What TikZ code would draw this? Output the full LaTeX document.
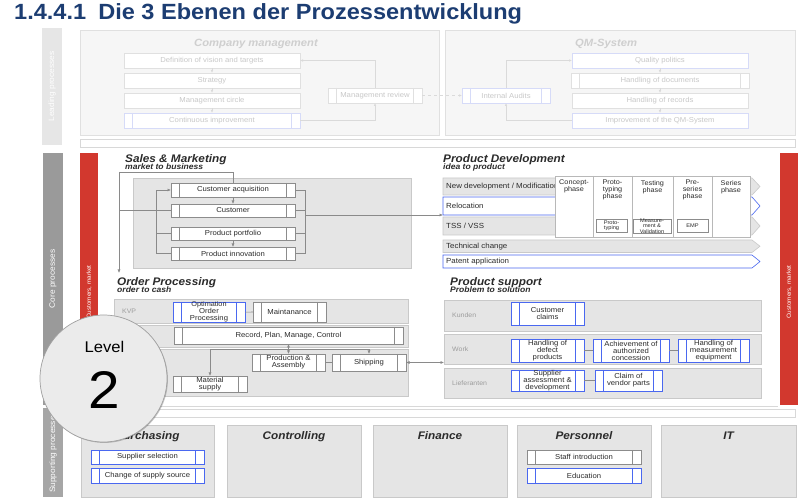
\documentclass[tikz,border=0pt]{standalone}
\usepackage{fontspec}
\setmainfont{Liberation Sans}[FakeStretch=1.07]
\usetikzlibrary{arrows.meta,shadows,calc}

\definecolor{ttl}{HTML}{1C3D72}
\definecolor{redbar}{HTML}{D2382E}
\definecolor{dgray}{HTML}{9A9A9A}
\definecolor{supgray}{HTML}{A6A6A6}
\definecolor{lgfill}{HTML}{E5E5E5}
\definecolor{lgdraw}{HTML}{C9C9C9}
\definecolor{bl}{HTML}{4A68F0}
\definecolor{boxgray}{HTML}{8C8C8C}
\definecolor{txt}{HTML}{2B2B2B}
\definecolor{rowgray}{HTML}{9C9C9C}
\definecolor{lngray}{HTML}{8A8A8A}
\definecolor{fadetxt}{HTML}{C8C8C8}
\definecolor{fadedraw}{HTML}{E0E0E0}
\definecolor{fadefill}{HTML}{F6F6F6}
\definecolor{fadebl}{HTML}{D6DBF8}
\definecolor{fadebar}{HTML}{E6E6E6}
\definecolor{fadeln}{HTML}{DADADA}
\definecolor{fadetitle}{HTML}{CFCFCF}
\definecolor{barline}{HTML}{D8D8D8}
\definecolor{circfill}{HTML}{EBEBEB}
\definecolor{circdraw}{HTML}{A0A0A0}
\definecolor{tablegray}{HTML}{B8B8B8}

\newcommand\fs[2]{\fontsize{#1}{#2}\selectfont}
\newcommand\bx[7]{%
  \pgfmathsetmacro\bxw{#5-#3}%
  \pgfmathsetmacro\bxh{#6-#4}%
  \node[#1,anchor=north west,minimum width=\bxw pt,minimum height=\bxh pt] (#2) at (#3,#4) {#7};}
\newcommand\chev[6]{%
  \draw[line width=0.6pt, fill=#4, draw=#5] (443,#2) -- (752,#2) -- (760,{(#2+#3)/2}) -- (752,#3) -- (443,#3) -- cycle;
  \node[anchor=west, inner sep=0pt, font=\fs{7.4}{7.4}, text=txt] (#1) at (446,{(#2+#3)/2}) {#6};}

\tikzset{
  bxbase/.style={inner sep=0pt, outer sep=0pt, line width=0.6pt},
  shad/.style={drop shadow={shadow xshift=0.9pt,shadow yshift=-0.9pt,fill=black,opacity=0.22}},
  bars/.style={path picture={\draw[draw=#1,line width=0.6pt]
      ([xshift=8.5pt]path picture bounding box.north west) -- ([xshift=8.5pt]path picture bounding box.south west)
      ([xshift=-8.5pt]path picture bounding box.north east) -- ([xshift=-8.5pt]path picture bounding box.south east);}},
  sb/.style={bxbase, fill=white, draw=#1, bars=#1, shad, align=center, font=\fs{7.2}{7}, text=txt},
  sb/.default=boxgray,
  bsb/.style={sb=bl, line width=0.9pt},
  plainb/.style={bxbase, fill=white, draw=boxgray, shad, align=center, font=\fs{5.3}{5.3}, text=txt},
  fplain/.style={bxbase, fill=white, draw=#1, align=center, font=\fs{7.2}{7}, text=fadetxt},
  fplain/.default=fadedraw,
  fsb/.style={fplain=#1, bars=#1},
  fsb/.default=fadedraw,
  panel/.style={bxbase, fill=lgfill, draw=lgdraw},
  spanel/.style={panel, shad},
  ln/.style={draw=lngray, line width=0.6pt},
  tip/.style={-{Latex[length=3.5pt,width=3pt]}},
  dtip/.style={{Latex[length=3.5pt,width=3pt]}-{Latex[length=3.5pt,width=3pt]}},
  fln/.style={draw=fadeln, line width=0.6pt},
  ftip/.style={-{Latex[length=3pt,width=2.6pt]}},
  sect/.style={anchor=base west, inner sep=0pt, font=\fs{11}{12}\bfseries\itshape, text=txt},
  subsect/.style={anchor=base west, inner sep=0pt, font=\fs{8}{9}\bfseries\itshape, text=txt},
  rowlab/.style={anchor=west, inner sep=0pt, font=\fs{6.5}{7}, text=rowgray},
  vbar/.style={bxbase, rotate=90, text=white, align=center},
  phase/.style={anchor=north, inner sep=0pt, align=center, font=\fs{6.8}{7}, text=txt},
}

\begin{document}
\begin{tikzpicture}[x=1pt,y=-1pt]
\useasboundingbox (0,0) rectangle (811,502);
\fill[white] (0,0) rectangle (811,502);

% ---------- title
\node[anchor=base west, inner sep=0pt, font=\fs{22}{24}\bfseries, text=ttl] (title) at (14,19.3) {1.4.4.1\hspace{0.55em}Die 3 Ebenen der Prozessentwicklung};

% ---------- leading processes (faded)
\node[vbar, fill=fadebar, minimum width=117pt, minimum height=20pt, font=\fs{7.8}{8}] (lbar) at (52,86.5) {Leading processes};
\bx{panel, fill=fadefill, draw=fadedraw}{cmp}{80}{30}{439}{135}{}
\bx{panel, fill=fadefill, draw=fadedraw}{qmp}{445}{30}{795}{135}{}
\node[sect, anchor=base, font=\fs{10.5}{11}\bfseries\itshape, text=fadetitle] (cmt) at (256,46.5) {Company management};
\node[sect, font=\fs{10.5}{11}\bfseries\itshape, text=fadetitle] (qmt) at (575,46.5) {QM-System};

\bx{fplain}{lv}{124}{53}{300}{68}{Definition of vision and targets}
\bx{fplain}{ls}{124}{73}{300}{88}{Strategy}
\bx{fplain}{lm}{124}{93}{300}{108}{Management circle}
\bx{fsb=fadebl}{lc}{124}{113}{300}{128}{Continuous improvement}
\bx{fsb}{lmr}{328}{88}{422}{103}{Management review}
\bx{fsb=fadebl}{lia}{462}{88}{550}{103}{Internal Audits}
\bx{fplain=fadebl}{qp}{572}{53}{748}{68}{Quality politics}
\bx{fsb}{qd}{571}{73}{749}{88}{Handling of documents}
\bx{fplain}{qr}{572}{93}{748}{108}{Handling of records}
\bx{fplain=fadebl}{qi}{572}{113}{748}{128}{Improvement of the QM-System}

\draw[fln,ftip] (lv.south) -- (ls.north);
\draw[fln,ftip] (ls.south) -- (lm.north);
\draw[fln,ftip] (lm.south) -- (lc.north);
\draw[fln,ftip] (qp.south) -- (qd.north);
\draw[fln,ftip] (qd.south) -- (qr.north);
\draw[fln,ftip] (qr.south) -- (qi.north);
\draw[fln,ftip] (lmr.north) |- (lv.east);
\draw[fln,ftip] (lc.east) -| (lmr.south);
\draw[fln,ftip,dashed] (lmr.east) -- (lia.west);
\draw[fln,ftip] (lia.north) |- (qp.west);
\draw[fln,ftip] (qi.west) -| (lia.south);

\bx{bxbase, fill=white, draw=barline}{wb1}{80}{139}{795}{147}{}

% ---------- core processes frame
\node[vbar, fill=dgray, minimum width=252pt, minimum height=20pt, font=\fs{7.8}{8}] (cbar) at (53,279) {Core processes};
\node[vbar, fill=redbar, minimum width=252pt, minimum height=18pt] (rl) at (89,279) {};
\node[rotate=90, text=white, font=\fs{5.9}{6}, inner sep=0pt] (rlt) at (89,292) {Customers, market};
\node[vbar, fill=redbar, minimum width=252pt, minimum height=18pt] (rr) at (789,279) {};
\node[rotate=90, text=white, font=\fs{5.9}{6}, inner sep=0pt] (rrt) at (789,292) {Customers, market};

% ---------- Sales & Marketing
\node[sect] (smt) at (125,162.5) {Sales \& Marketing};
\node[subsect] (sms) at (125,170) {market to business};
\bx{panel}{smp}{133}{178}{411}{268}{}
\bx{sb}{ca}{171}{183}{295}{197}{Customer acquisition}
\bx{sb}{cu}{171}{204}{295}{217}{Customer}
\bx{sb}{pp}{171}{227}{295}{240}{Product portfolio}
\bx{sb}{pi}{171}{247}{295}{260}{Product innovation}

\coordinate (tl) at (119,172);
\coordinate (opin) at (119,273);
\coordinate (rb) at (305,215);
\coordinate (pdin) at (443,215);
\draw[ln] (ca.north) |- (tl);
\draw[ln,tip] (tl) -- (opin);
\draw[ln] (tl |- cu.west) -- (cu.west);
\draw[ln,tip] (pi.west) -- ++(-15,0) |- (ca.west);
\draw[ln] (pp.west) -- ++(-15,0);
\draw[ln] (ca.east) -- ++(10,0) |- (pi.east);
\draw[ln] (cu.east) -- ++(10,0);
\draw[ln] (pp.east) -- ++(10,0);
\draw[ln,tip] (rb) -- (pdin);
\draw[ln,tip] (ca.south) -- (cu.north);
\draw[ln,tip] (pp.south) -- (pi.north);

% ---------- Product Development
\node[sect] (pdt) at (443,162.5) {Product Development};
\node[subsect] (pds) at (443,170) {idea to product};
\chev{nd}{178}{195}{lgfill}{lgdraw}{New development / Modification}
\chev{rel}{197}{215}{white}{bl}{Relocation}
\chev{tss}{217}{235}{lgfill}{lgdraw}{TSS / VSS}
\chev{tc}{240}{252.5}{lgfill}{lgdraw}{Technical change}
\chev{pat}{255}{268}{white}{bl}{Patent application}

\bx{bxbase, fill=white, draw=tablegray}{ptab}{555}{176}{750}{237}{}
\foreach \xx in {593,632,673,712} \draw[draw=tablegray, line width=0.6pt] (\xx,176) -- (\xx,237);
\node[phase] (ph1) at (574,180) {Concept-\\phase};
\node[phase] (ph2) at (612.5,180) {Proto-\\typing\\phase};
\node[phase] (ph3) at (652.5,180) {Testing\\phase};
\node[phase] (ph4) at (692.5,180) {Pre-\\series\\phase};
\node[phase] (ph5) at (731,180) {Series\\phase};
\bx{plainb}{pb1}{596}{219}{627}{232}{Proto-\\typing}
\bx{plainb}{pb2}{633}{219}{671}{232}{Measure-\\ment \&\\Validation}
\bx{plainb}{pb3}{677}{219}{708}{232}{EMP}

% ---------- Order Processing
\node[sect] (opt) at (117,285.5) {Order Processing};
\node[subsect] (ops) at (117,292.5) {order to cash};
\bx{panel}{op1}{114}{299}{408}{323}{}
\bx{panel}{op2}{114}{325}{408}{347}{}
\bx{panel}{op3}{114}{349}{408}{396}{}
\node[rowlab] (kvp) at (122,311) {KVP};
\bx{bsb}{oop}{173}{302}{245}{322}{\fs{6.8}{6.6}Optimation\\Order\\Processing}
\bx{sb}{mnt}{253}{302}{326}{322}{Maintanance}
\bx{sb}{rpm}{174}{327}{403}{344}{Record, Plan, Manage, Control}
\bx{sb}{pa}{252}{354}{325}{371}{Production \&\\Assembly}
\bx{sb}{sh}{332}{354}{406}{371}{Shipping}
\bx{sb}{ms}{173}{376}{247}{392}{Material\\supply}

\coordinate (jn) at (288.5,349.5);
\draw[ln] (oop.east) -- (mnt.west);
\draw[ln,dtip] (rpm.south -| pa.north) -- (pa.north);
\draw[ln] (ms.north |- jn) -- (sh.north |- jn);
\draw[ln,tip] (ms.north |- jn) -- (ms.north);
\draw[ln,tip] (sh.north |- jn) -- (sh.north);
\draw[ln] (pa.east) -- (sh.west);

% ---------- Product support
\node[sect] (pst) at (450,285.5) {Product support};
\node[subsect] (pss) at (450,292.5) {Problem to solution};
\bx{panel}{kun}{444}{300}{761}{331}{}
\bx{panel}{wrk}{444}{334}{761}{364}{}
\bx{panel}{lie}{444}{368}{761}{398}{}
\node[rowlab] (kunl) at (452,315.5) {Kunden};
\node[rowlab] (wrkl) at (452,349) {Work};
\node[rowlab] (liel) at (452,383) {Lieferanten};
\bx{bsb}{cc}{511}{302}{584}{325}{Customer\\claims}
\bx{bsb}{hd}{511}{339}{584}{362}{Handling of\\defect\\products}
\bx{bsb}{ac}{593}{339}{669}{362}{Achievement of\\authorized\\concession}
\bx{bsb}{hm}{678}{339}{749}{362}{Handling of\\measurement\\equipment}
\bx{bsb}{sa}{511}{370}{584}{391}{Supplier\\assessment \&\\development}
\bx{bsb}{cv}{595}{370}{662}{391}{Claim of\\vendor parts}
\draw[ln] (hd.east) -- (ac.west);
\draw[ln] (ac.east) -- (hm.west);
\draw[ln] (sa.east) -- (cv.west);
\draw[ln,dtip] (sh.east) -- (sh.east -| wrk.west);

% ---------- separator bars
\draw[draw=barline, line width=0.8pt] (100,406) -- (778,406);
\bx{bxbase, fill=white, draw=barline}{wb2}{80}{409.5}{795}{417}{}

% ---------- supporting processes
\node[vbar, fill=supgray, minimum width=89pt, minimum height=20pt, font=\fs{7.8}{8}] (sbar) at (53,452.5) {Supporting processes};
\bx{spanel}{pur}{81}{425}{214}{497}{}
\bx{spanel}{con}{227}{425}{361}{497}{}
\bx{spanel}{fin}{373}{425}{507}{497}{}
\bx{spanel}{per}{517}{425}{651}{497}{}
\bx{spanel}{itb}{661}{425}{796}{497}{}
\node[sect, anchor=base] (purt) at (147.5,439.5) {Purchasing};
\node[sect, anchor=base] (cont) at (294,439.5) {Controlling};
\node[sect, anchor=base] (fint) at (440,439.5) {Finance};
\node[sect, anchor=base] (pert) at (584,439.5) {Personnel};
\node[sect, anchor=base] (itt) at (728.5,439.5) {IT};
\bx{bsb}{ssel}{91}{450}{204}{464}{Supplier selection}
\bx{bsb}{css}{91}{468}{204}{483}{Change of supply source}
\bx{sb}{sti}{527}{450}{641}{464}{Staff introduction}
\bx{bsb}{edu}{527}{468}{641}{483}{Education}

% ---------- level circle
\node[circle, fill=circfill, draw=circdraw, line width=0.7pt, minimum size=127pt, inner sep=0pt, shad] (lvl) at (103.5,378.5) {};
\node[anchor=base, inner sep=0pt, font=\fs{15.5}{16}, text=black] (lvt) at (104.5,353) {Level};
\node[anchor=base, inner sep=0pt, font=\fs{53}{53}, text=black] (lvn) at (104,408) {2};
\end{tikzpicture}
\end{document}
